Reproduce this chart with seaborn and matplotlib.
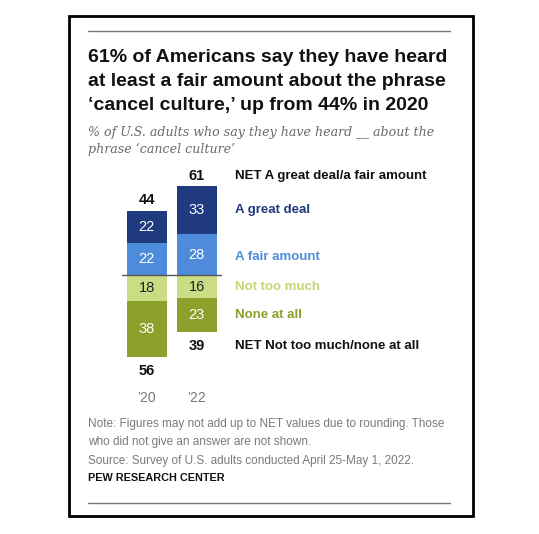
import matplotlib.pyplot as plt
import matplotlib.transforms as mtransforms
from matplotlib.patches import Rectangle
from matplotlib.lines import Line2D
import pandas as pd
import seaborn as sns

# Survey data (% of U.S. adults)
years = ["\u201920", "\u201922"]
great_deal = [22, 33]
fair_amount = [22, 28]
not_too_much = [18, 16]
none_at_all = [38, 23]
net_heard = [44, 61]
net_not_heard = [56, 39]

c_great = "#1f3a7e"
c_fair = "#4e8cdb"
c_not_much = "#cbdd84"
c_none = "#8ca12c"

sns.set_theme(style="white")
plt.rcParams["font.family"] = ["Liberation Sans", "DejaVu Sans"]

W, H = 539, 534
fig = plt.figure(figsize=(W / 100, H / 100), dpi=100)


def fx(px):
    return px / W


def fy(px):
    return 1 - px / H


# axes placed so that the zero line sits at y=275 px, 1.46 px per point
k = 1.46
y_top, y_bot = 65, -60
top_px = 275 - y_top * k
bot_px = 275 - y_bot * k
ax = fig.add_axes([fx(121.7), fy(bot_px), fx(100), (bot_px - top_px) / H])

df = pd.DataFrame({"year": years, "great": great_deal, "fair": fair_amount,
                   "notmuch": not_too_much, "none": none_at_all})

bar_kw = dict(x="year", order=years, width=0.8, saturation=1, linewidth=0, ax=ax)
sns.barplot(data=df, y="fair", color=c_fair, **bar_kw)
sns.barplot(data=df, y="great", bottom=df["fair"], color=c_great, **bar_kw)
df["neg_notmuch"] = -df["notmuch"]
df["neg_none"] = -df["none"]
sns.barplot(data=df, y="neg_notmuch", color=c_not_much, **bar_kw)
sns.barplot(data=df, y="neg_none", bottom=df["neg_notmuch"], color=c_none, **bar_kw)

ax.set_xlim(-0.5, 1.5)
ax.set_ylim(y_bot, y_top)
ax.axhline(0, color="#555555", lw=1)
ax.axis("off")

# numbers inside the segments
num_kw = dict(ha="center", va="center", fontsize=10.5)
for i in range(len(years)):
    f, g = fair_amount[i], great_deal[i]
    n, o = not_too_much[i], none_at_all[i]
    ax.text(i, f / 2, str(f), color="white", **num_kw)
    ax.text(i, f + g / 2, str(g), color="white", **num_kw)
    ax.text(i, -n / 2, str(n), color="#222222", **num_kw)
    ax.text(i, -n - o / 2, str(o), color="white", **num_kw)
    ax.annotate(str(net_heard[i]), (i, f + g), xytext=(0, 7.5), textcoords="offset points",
                ha="center", va="center", fontsize=10.5, fontweight="bold", color="#111111")
    ax.annotate(str(net_not_heard[i]), (i, -n - o), xytext=(0, -10), textcoords="offset points",
                ha="center", va="center", fontsize=10.5, fontweight="bold", color="#111111")

# category labels to the right of the '22 bar
last = len(years) - 1
f, g = fair_amount[last], great_deal[last]
n, o = not_too_much[last], none_at_all[last]
lab_kw = dict(xytext=(13, 0), textcoords="offset points", ha="left", va="center",
              fontsize=9.5, fontweight="bold", annotation_clip=False)
ax.annotate("NET A great deal/a fair amount", (1.4, f + g), color="#111111",
            **{**lab_kw, "xytext": (13, 7.5)})
ax.annotate("A great deal", (1.4, f + g / 2), color=c_great, **lab_kw)
ax.annotate("A fair amount", (1.4, f / 2 - 1.5), color=c_fair, **lab_kw)
ax.annotate("Not too much", (1.4, -n / 2), color="#c2d673", **lab_kw)
ax.annotate("None at all", (1.4, -n - o / 2), color=c_none, **lab_kw)
ax.annotate("NET Not too much/none at all", (1.4, -n - o), color="#111111",
            **{**lab_kw, "xytext": (13, -10)})

# year labels
trans = mtransforms.blended_transform_factory(ax.transData, fig.transFigure)
for i, yr in enumerate(years):
    ax.text(i, fy(398), yr, transform=trans, ha="center", va="center",
            fontsize=10, color="#777777")

# title and subtitle
title_lines = ["61% of Americans say they have heard",
               "at least a fair amount about the phrase",
               "\u2018cancel culture,\u2019 up from 44% in 2020"]
for j, line in enumerate(title_lines):
    fig.text(fx(88), fy(57 + 24 * j), line, ha="left", va="center",
             fontsize=14, fontweight="bold", color="#111111")

sub_lines = ["% of U.S. adults who say they have heard __ about the",
             "phrase \u2018cancel culture\u2019"]
for j, line in enumerate(sub_lines):
    fig.text(fx(88), fy(132.5 + 17 * j), line, ha="left", va="center",
             fontsize=9.1, fontstyle="italic", family="DejaVu Serif", color="#6a6a6a")

notes = ["Note: Figures may not add up to NET values due to rounding. Those",
         "who did not give an answer are not shown.",
         "Source: Survey of U.S. adults conducted April 25-May 1, 2022."]
for j, line in enumerate(notes):
    fig.text(fx(88), fy(424 + 18.5 * j), line, ha="left", va="center",
             fontsize=8.5, color="#7a7a7a")
fig.text(fx(88), fy(478), "PEW RESEARCH CENTER", ha="left", va="center",
         fontsize=7.8, fontweight="bold", color="#111111")

# frame and rules
fig.add_artist(Rectangle((fx(69), fy(516)), fx(404), (516 - 16) / H,
                         transform=fig.transFigure, fill=False, lw=2, ec="black"))
for ypx in (31, 503):
    fig.add_artist(Line2D([fx(88), fx(450)], [fy(ypx), fy(ypx)],
                          transform=fig.transFigure, color="#777777", lw=1))

fig.savefig("out.png", dpi=100)
